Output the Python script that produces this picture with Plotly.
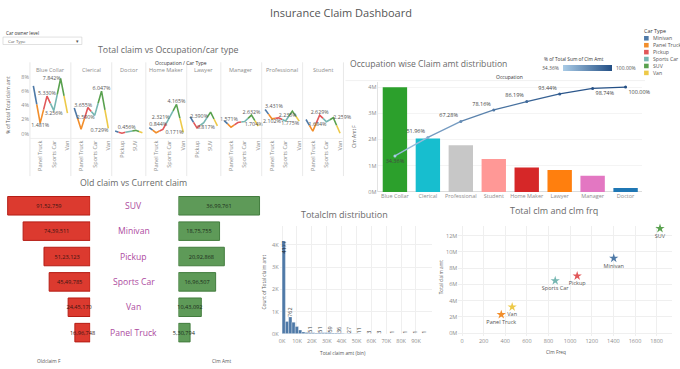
import plotly.graph_objects as go

W, H = 680, 369
def px(x): return x / W
def py(y): return 1 - y / H

FONT = "Open Sans"
TICK = "#8c8c8c"
TITLE = "#6a6a6a"
GRID = "#efefef"
SEP = "#e3e3e3"

# ---------------- data ----------------
car_types = ["Minivan", "Panel Truck", "Pickup", "Sports Car", "SUV", "Van"]

occupations = ["Blue Collar", "Clerical", "Doctor", "Home Maker", "Lawyer", "Manager", "Professional", "Student"]
cars_six = ["Minivan", "Panel Truck", "Pickup", "Sports Car", "SUV", "Van"]
cars_five = ["Minivan", "Pickup", "Sports Car", "SUV", "Van"]
pct_blue_collar = [6.80, 1.481, 5.330, 3.256, 7.842, 2.90]
pct_clerical = [3.655, 0.62, 3.70, 2.590, 6.047, 0.729]
pct_doctor = [0.35, 0.05, 0.30, 0.456, 0.10]
pct_home_maker = [0.844, 0.115, 0.60, 2.321, 4.165, 0.171]
pct_lawyer = [2.390, 0.817, 1.55, 3.05, 1.10]
pct_manager = [1.85, 0.90, 1.571, 1.704, 2.632, 1.05]
pct_professional = [3.431, 2.102, 2.235, 1.80, 3.20, 1.775]
pct_student = [2.00, 0.35, 2.629, 1.684, 2.259, 0.05]

occ_bar_order = ["Blue Collar", "Clerical", "Professional", "Student", "Home Maker", "Lawyer", "Manager", "Doctor"]
clm_amt_by_occ = [3990000, 2040000, 1780000, 1260000, 930000, 840000, 615000, 146000]
cum_pct = [34.36, 51.96, 67.28, 78.16, 86.19, 93.44, 98.74, 100.00]

cmp_car_order = ["SUV", "Minivan", "Pickup", "Sports Car", "Van", "Panel Truck"]
old_claim = [9152759, 7439511, 5123123, 4549785, 2445170, 1696748]
clm_amt = [3699761, 1875755, 2092868, 1696507, 1043092, 530794]

hist_bin_width = 2200
hist_counts = [4177, 560, 762, 520, 330, 170, 85, 60, 51, 44, 40, 51, 45, 48, 59, 42, 38, 36,
               25, 20, 27, 15, 12, 11, 6, 4, 3, 2, 1, 3, 1, 0, 1, 1, 0, 0, 0, 1, 0, 0, 1, 0, 0, 1]

scatter_cars = ["SUV", "Minivan", "Pickup", "Sports Car", "Van", "Panel Truck"]
clm_freq = [1831, 1403, 1065, 862, 464, 363]
total_claim = [12900000, 9230000, 7040000, 6460000, 3220000, 2280000]

# ---------------- styles ----------------
car_colors = {"Minivan": "#4e79a7", "Panel Truck": "#f28e2b", "Pickup": "#e15759",
              "Sports Car": "#76b7b2", "SUV": "#59a14f", "Van": "#edc948"}
occ_colors = ["#2ca02c", "#17becf", "#c7c7c7", "#ff9896", "#d62728", "#ff7f0e", "#e377c2", "#1f77b4"]
label_pos = {
    "Blue Collar": {"Panel Truck": "bottom center", "Pickup": "top center", "Sports Car": "bottom center", "SUV": "middle left"},
    "Clerical": {"Minivan": "top right", "Sports Car": "bottom left", "SUV": "top center", "Van": "bottom left"},
    "Doctor": {"SUV": "top left"},
    "Home Maker": {"Minivan": "top right", "Sports Car": "middle left", "SUV": "top center", "Van": "middle left"},
    "Lawyer": {"Minivan": "middle right", "Pickup": "middle right"},
    "Manager": {"Pickup": "top left", "Sports Car": "bottom right", "SUV": "top center"},
    "Professional": {"Minivan": "top right", "Panel Truck": "bottom center", "Pickup": "top right", "Van": "bottom left"},
    "Student": {"Pickup": "top center", "Sports Car": "bottom left", "SUV": "middle right"},
}
hist_labeled = [0, 2, 8, 11, 14, 17, 20, 23, 26, 29, 33, 37, 40, 43]
pareto_pos = ["bottom center"] + ["top left"] * 5 + ["bottom right"] * 2
cs_light, cs_dark = "#a9cbe6", "#234f85"


def inr(n):
    s = str(int(n))
    last3, rest = s[-3:], s[:-3]
    groups = []
    while len(rest) > 2:
        groups.insert(0, rest[-2:])
        rest = rest[:-2]
    if rest:
        groups.insert(0, rest)
    return ",".join(groups + [last3])


def lerp(c1, c2, t):
    a = [int(c1[i:i + 2], 16) for i in (1, 3, 5)]
    b = [int(c2[i:i + 2], 16) for i in (1, 3, 5)]
    return "#" + "".join(f"{round(a[k] + (b[k] - a[k]) * t):02x}" for k in range(3))


def ax(**kw):
    d = dict(showgrid=False, zeroline=False, showline=False, ticks="", fixedrange=True,
             tickfont=dict(size=5.5, color=TICK, family=FONT))
    d.update(kw)
    return d


traces, annotations, shapes = [], [], []
lay = {}


def note(x, y, text, size=5.5, color=TITLE, xanchor="center", angle=0, **kw):
    annotations.append(dict(x=px(x), y=py(y), xref="paper", yref="paper", text=text, showarrow=False,
                            xanchor=xanchor, yanchor="middle", textangle=angle,
                            font=dict(size=size, color=color, family=FONT), **kw))


def line(x0, y0, x1, y1, color=SEP, width=0.8):
    shapes.append(dict(type="line", xref="paper", yref="paper", x0=px(x0), y0=py(y0), x1=px(x1), y1=py(y1),
                       line=dict(color=color, width=width)))


# ---------------- header / filter / legend ----------------
note(341, 13, "Insurance Claim Dashboard", size=11, color="#555555")
note(3, 33, "Car owner level", size=4.6, color="#333333", xanchor="left")
shapes.append(dict(type="rect", xref="paper", yref="paper", x0=px(2), x1=px(81), y0=py(45), y1=py(37.5),
                   line=dict(color="#cccccc", width=0.6), fillcolor="white"))
note(5, 41.3, "Car Type", size=4.3, color="#555555", xanchor="left")
note(77, 41.3, "▾", size=4.5, color="#555555")

note(642, 31.5, "Car Type", size=5.4, color="#333333", xanchor="left")
for i, c in enumerate(car_types):
    yc = 38.7 + 7 * i
    shapes.append(dict(type="rect", xref="paper", yref="paper", x0=px(644), x1=px(648.6),
                       y0=py(yc + 2.3), y1=py(yc - 2.3), line=dict(width=0), fillcolor=car_colors[c]))
    note(650.5, yc, c, size=5.2, color="#555555", xanchor="left")

# ---------------- chart 1: small multiples ----------------
note(168, 50.5, "Total claim vs Occupation/car type", size=8.8, color=TITLE)
note(180, 64, "Occupation / Car Type", size=5, color="#333333")
panels = [("Blue Collar", cars_six, pct_blue_collar), ("Clerical", cars_six, pct_clerical),
          ("Doctor", cars_five, pct_doctor), ("Home Maker", cars_six, pct_home_maker),
          ("Lawyer", cars_five, pct_lawyer), ("Manager", cars_six, pct_manager),
          ("Professional", cars_six, pct_professional), ("Student", cars_six, pct_student)]
x_left, x_right = 29, 343
unit = (x_right - x_left) / sum(len(p[1]) for p in panels)
pos = x_left
for k, (occ, cars, vals) in enumerate(panels):
    n = len(cars)
    xa = "x" if k == 0 else f"x{k + 1}"
    key = "xaxis" if k == 0 else f"xaxis{k + 1}"
    d0, d1 = pos, pos + n * unit
    odd = [i for i in range(n) if i % 2 == 1]
    lay[key] = ax(domain=[px(d0), px(d1)], range=[-0.5, n - 0.5], anchor="y", tickmode="array",
                  tickvals=odd, ticktext=[cars[i] for i in odd], tickangle=-90,
                  tickfont=dict(size=5.6, color=TICK, family=FONT))
    for i in range(n):
        xs, ys = [], []
        if i > 0:
            xs.append(i - 0.5); ys.append((vals[i - 1] + vals[i]) / 2)
        xs.append(i); ys.append(vals[i])
        if i < n - 1:
            xs.append(i + 0.5); ys.append((vals[i] + vals[i + 1]) / 2)
        traces.append(go.Scatter(x=xs, y=ys, xaxis=xa, yaxis="y", mode="lines",
                                 line=dict(color=car_colors[cars[i]], width=1.6), hoverinfo="skip",
                                 showlegend=False))
    labs = label_pos[occ]
    li = [i for i, c in enumerate(cars) if c in labs]
    traces.append(go.Scatter(x=li, y=[vals[i] for i in li], text=[f"{vals[i]:.3f}%" for i in li],
                             mode="text", textposition=[labs[cars[i]] for i in li],
                             textfont=dict(size=5.3, color="#555555", family=FONT),
                             xaxis=xa, yaxis="y", showlegend=False, cliponaxis=False, hoverinfo="skip"))
    note((d0 + d1) / 2, 70.5, occ, size=5.6, color=TICK)
    line(d0, 63, d0, 178)
    pos = d1
line(x_right, 63, x_right, 178)
line(x_left, 140, x_right, 140, color="#ececec")
lay["yaxis"] = ax(domain=[py(140), py(74)], range=[-0.7, 8.6], anchor="x",
                  tickvals=[0, 2, 4, 6, 8], ticktext=["0%", "2%", "4%", "6%", "8%"])
note(7, 106, "% of Total Total claim amt", size=4.8, color="#555555", angle=-90)

# ---------------- chart 2: occupation bars + pareto ----------------
note(348, 65, "Occupation wise Claim amt distribution", size=8.6, color=TITLE, xanchor="left")
note(541.5, 60, "% of Total Sum of Clm Amt", size=4.8, color="#333333", xanchor="left")
note(561, 69, f"{min(cum_pct):.2f}%", size=5, color="#555555", xanchor="right")
note(614, 69, f"{max(cum_pct):.2f}%", size=5, color="#555555", xanchor="left")
note(509, 78, "Occupation", size=5, color="#333333")
line(345, 81.5, 645, 81.5, color="#ececec")
lay["xaxis9"] = ax(domain=[px(378), px(642)], anchor="y2", type="category", categoryorder="array",
                   categoryarray=occ_bar_order, range=[-0.5, len(occ_bar_order) - 0.5])
ymax2 = 4.19e6
lay["yaxis2"] = ax(domain=[py(194), py(83)], range=[0, ymax2], anchor="x9",
                   tickvals=[0, 1e6, 2e6, 3e6, 4e6], ticktext=["0M", "1M", "2M", "3M", "4M"],
                   showgrid=True, gridcolor="#f4f4f4", showline=True, linecolor="#e3e3e3", linewidth=0.8,
                   zeroline=True, zerolinecolor="#dcdcdc", zerolinewidth=0.8)
lay["yaxis3"] = dict(overlaying="y2", anchor="x9", range=[0, ymax2 / 4e6 * 100], visible=False, fixedrange=True)
traces.append(go.Bar(x=occ_bar_order, y=clm_amt_by_occ, marker=dict(color=occ_colors, line=dict(width=0)),
                     width=0.74, xaxis="x9", yaxis="y2", showlegend=False, hoverinfo="skip"))
cmin, cmax = min(cum_pct), max(cum_pct)
for i in range(len(cum_pct) - 1):
    t = ((cum_pct[i] + cum_pct[i + 1]) / 2 - cmin) / (cmax - cmin)
    traces.append(go.Scatter(x=occ_bar_order[i:i + 2], y=cum_pct[i:i + 2], xaxis="x9", yaxis="y3",
                             mode="lines", line=dict(color=lerp(cs_light, cs_dark, t), width=1.3),
                             showlegend=False, hoverinfo="skip"))
traces.append(go.Scatter(x=occ_bar_order, y=cum_pct, xaxis="x9", yaxis="y3", mode="markers+text",
                         text=[f"{v:.2f}%" for v in cum_pct], textposition=pareto_pos,
                         textfont=dict(size=5.5, color="#444444", family=FONT),
                         marker=dict(size=3, color=cum_pct, colorscale=[[0, cs_light], [1, cs_dark]],
                                     cmin=cmin, cmax=cmax, showscale=True,
                                     colorbar=dict(orientation="h", x=px(587.5), xanchor="center",
                                                   y=py(69), yanchor="middle", len=49, lenmode="pixels",
                                                   thickness=6, thicknessmode="pixels", showticklabels=False,
                                                   ticks="", outlinewidth=0, xpad=0, ypad=0)),
                         showlegend=False, cliponaxis=False, hoverinfo="skip"))
note(353, 138, "Clm Amt F", size=4.8, color="#555555", angle=-90)

# ---------------- chart 3: old claim vs current claim ----------------
note(133, 185, "Old claim vs Current claim", size=8.8, color=TITLE)
lay["yaxis4"] = ax(domain=[py(349.1), py(195.2)], anchor="x10", type="category", categoryorder="array",
                   categoryarray=cmp_car_order, range=[len(cmp_car_order) - 0.5, -0.5], showticklabels=False)
lay["xaxis10"] = ax(domain=[px(5), px(89.3)], anchor="y4", range=[9.34e6, 0], showticklabels=False)
lay["xaxis11"] = ax(domain=[px(177.7), px(262)], anchor="y4", range=[0, 3.84e6], showticklabels=False)
traces.append(go.Bar(y=cmp_car_order, x=old_claim, orientation="h", xaxis="x10", yaxis="y4", width=0.73,
                     marker=dict(color="#dc3a2f", line=dict(color="#b51d15", width=1)),
                     text=[inr(v) for v in old_claim], textposition="inside", insidetextanchor="middle",
                     textangle=0, constraintext="none", textfont=dict(size=5.6, color="#3b1512", family=FONT),
                     showlegend=False, hoverinfo="skip", cliponaxis=False))
traces.append(go.Bar(y=cmp_car_order, x=clm_amt, orientation="h", xaxis="x11", yaxis="y4", width=0.73,
                     marker=dict(color="#5e9a58", line=dict(color="#437c3e", width=1)),
                     text=[inr(v) for v in clm_amt], textposition="inside", insidetextanchor="middle",
                     textangle=0, constraintext="none", textfont=dict(size=5.6, color="#1c2a1b", family=FONT),
                     showlegend=False, hoverinfo="skip", cliponaxis=False))
for c in cmp_car_order:
    annotations.append(dict(x=px(133), y=c, xref="paper", yref="y4", text=c, showarrow=False,
                            xanchor="center", yanchor="middle",
                            font=dict(size=8.6, color="#ad4aa0", family=FONT)))
note(48, 365, "Oldclaim F", size=4.8, color="#555555")
note(221, 365, "Clm Amt", size=4.8, color="#555555")

# ---------------- chart 4: histogram ----------------
note(344, 216.7, "Totalclm distribution", size=9, color=TITLE)
lay["xaxis12"] = ax(domain=[px(279), px(432)], anchor="y5", range=[-1700, 101000],
                    tickvals=[k * 10000 for k in range(10)], ticktext=[f"{k * 10}K" for k in range(10)],
                    showgrid=True, gridcolor=GRID, ticklabelstandoff=3)
lay["yaxis5"] = ax(domain=[py(337.5), py(228)], anchor="x12", range=[0, 4870],
                   tickvals=[0, 1000, 2000, 3000, 4000], ticktext=["0K", "1K", "2K", "3K", "4K"],
                   showgrid=True, gridcolor=GRID)
hx = [(i + 0.5) * hist_bin_width for i in range(len(hist_counts))]
htext = [str(hist_counts[i]) if i in hist_labeled else "" for i in range(len(hist_counts))]
hpos = ["inside" if i == 0 else "outside" for i in range(len(hist_counts))]
traces.append(go.Bar(x=hx, y=hist_counts, width=hist_bin_width, xaxis="x12", yaxis="y5",
                     marker=dict(color="#4e79a7", line=dict(color="white", width=0.3)),
                     text=htext, textposition=hpos, textangle=-90, insidetextanchor="end",
                     constraintext="none", textfont=dict(size=5.5, color="#444444", family=FONT),
                     insidetextfont=dict(size=5.5, color="#1a2533", family=FONT),
                     showlegend=False, hoverinfo="skip", cliponaxis=False))
note(263, 285, "Count of Total claim amt", size=4.8, color="#555555", angle=-90)
note(343, 357, "Total claim amt (bin)", size=4.8, color="#555555")

# ---------------- chart 5: scatter ----------------
note(554, 213, "Total clm and clm frq", size=9, color=TITLE)
lay["xaxis13"] = ax(domain=[px(458), px(672)], anchor="y6", range=[-34, 1942],
                    tickvals=list(range(0, 1801, 200)), showgrid=True, gridcolor=GRID)
lay["yaxis6"] = ax(domain=[py(340), py(228)], anchor="x13", range=[-0.4e6, 13.26e6],
                   tickvals=[k * 2e6 for k in range(7)], ticktext=[f"{k * 2}M" for k in range(7)],
                   showgrid=True, gridcolor=GRID)
traces.append(go.Scatter(x=clm_freq, y=total_claim, xaxis="x13", yaxis="y6", mode="markers+text",
                         marker=dict(symbol="star", size=7, color=[car_colors[c] for c in scatter_cars]),
                         text=scatter_cars, textposition="bottom center",
                         textfont=dict(size=5.5, color="#555555", family=FONT),
                         showlegend=False, hoverinfo="skip", cliponaxis=False))
note(441, 280, "Total claim amt", size=4.8, color="#555555", angle=-90)
note(556, 356, "Clm Freq", size=4.8, color="#555555")

fig = go.Figure(data=traces)
fig.update_layout(width=W, height=H, autosize=False, margin=dict(l=0, r=0, t=0, b=0),
                  paper_bgcolor="white", plot_bgcolor="white", showlegend=False,
                  font=dict(family=FONT, size=6, color="#555555"),
                  annotations=annotations, shapes=shapes, **lay)
fig.write_html("out.html", config={"displayModeBar": False},
               post_script="document.body.style.margin='0';document.body.style.padding='0';"
                           "document.documentElement.style.overflow='hidden';")
